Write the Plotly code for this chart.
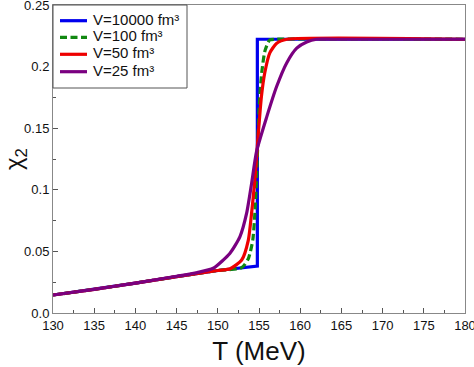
import plotly.graph_objects as go

# Data
labels = ["V=10000 fm³", "V=100 fm³", "V=50 fm³", "V=25 fm³"]

T_v10000 = [130, 135, 140, 145, 150, 154.8, 154.8, 180]
chi_v10000 = [0.0146, 0.0192, 0.0243, 0.0295, 0.0345, 0.0380, 0.2222, 0.2222]

T_v100 = [130, 135, 140, 145, 150, 152.9, 153.7, 154.24, 154.5, 154.72, 155.04, 155.33, 155.73, 156.3, 157.0, 180]
chi_v100 = [0.0146, 0.0192, 0.0243, 0.0295, 0.0345, 0.0368, 0.044, 0.059, 0.081, 0.113, 0.170, 0.195, 0.213, 0.2216, 0.2222, 0.2222]

T_v50 = [130, 135, 140, 145, 150, 151.5, 152.9, 153.7, 154.1, 154.5, 154.85, 155.3, 155.7, 156.3, 157.15, 158.4, 180]
chi_v50 = [0.0146, 0.0192, 0.0243, 0.0295, 0.0345, 0.0360, 0.043, 0.059, 0.081, 0.108, 0.140, 0.176, 0.195, 0.211, 0.219, 0.2222, 0.2222]

T_v25 = [130, 135, 140, 145, 147.5, 149.45, 151.48, 152.69, 153.5, 154.1, 154.7, 155.93, 157.15, 158.36, 159.58, 160.79, 162.0, 164.0, 180]
chi_v25 = [0.0146, 0.0192, 0.0243, 0.0298, 0.0328, 0.0363, 0.0485, 0.062, 0.081, 0.105, 0.131, 0.159, 0.184, 0.203, 0.215, 0.220, 0.2222, 0.2222, 0.2222]

x_ticks = [130, 135, 140, 145, 150, 155, 160, 165, 170, 175, 180]
y_ticks = [0.0, 0.05, 0.1, 0.15, 0.2, 0.25]
y_tick_text = ["0.0", "0.05", "0.1", "0.15", "0.2", "0.25"]

FONT = "Liberation Sans, Arial"
colors = ["#0000ee", "#118811", "#ee0000", "#7a0080"]
dashes = ["solid", "7px,3.5px", "solid", "solid"]
shapes_ = ["linear", "spline", "spline", "spline"]
LW = 3.2

series = [(T_v10000, chi_v10000), (T_v100, chi_v100), (T_v50, chi_v50), (T_v25, chi_v25)]

fig = go.Figure()
for (tx, cy), name, col, dsh, shp in zip(series, labels, colors, dashes, shapes_):
    line = dict(color=col, width=LW, dash=dsh, shape=shp)
    if shp == "spline":
        line["smoothing"] = 0.6
    fig.add_trace(go.Scatter(x=tx, y=cy, mode="lines", name=name, line=line, showlegend=False))

axis_common = dict(showgrid=False, zeroline=False, showline=True, linecolor="#888888", linewidth=1,
                   mirror=True, ticks="inside", ticklen=5, tickcolor="#555555", automargin=False,
                   ticklabeloverflow="allow",
                   tickfont=dict(family=FONT, size=13, color="#111111"))

fig.update_xaxes(range=[130, 180], tickvals=x_ticks,
                 minor=dict(ticks="inside", ticklen=3, dtick=2.5, tick0=130, tickcolor="#555555"),
                 title=dict(text="T (MeV)", font=dict(family=FONT, size=26, color="#111111"), standoff=10),
                 **axis_common)
fig.update_yaxes(range=[0, 0.25], tickvals=y_ticks, ticktext=y_tick_text,
                 minor=dict(ticks="inside", ticklen=3, dtick=0.025, tick0=0, tickcolor="#555555"),
                 title=dict(text="χ<sub>2</sub>", font=dict(family=FONT, size=24, color="#111111"), standoff=4),
                 **axis_common)

# Legend box drawn in paper coordinates (plot area: 412 x 308 px)
PW, PH = 412.0, 308.0
def px_x(p):
    return (p - 53) / PW
def px_y(p):
    return (313 - p) / PH

shapes = [dict(type="rect", xref="paper", yref="paper",
               x0=px_x(53), x1=px_x(187), y0=px_y(88), y1=px_y(5),
               line=dict(color="#555555", width=1), fillcolor="white", layer="above")]
annotations = []
row_y = [20.7, 37.3, 54.3, 71.7]
for ry, name, col, dsh in zip(row_y, labels, colors, dashes):
    shapes.append(dict(type="line", xref="paper", yref="paper",
                       x0=px_x(60), x1=px_x(87), y0=px_y(ry), y1=px_y(ry),
                       line=dict(color=col, width=LW, dash=dsh), layer="above"))
    annotations.append(dict(xref="paper", yref="paper", x=px_x(92), y=px_y(ry - 1.5),
                            xanchor="left", yanchor="middle", showarrow=False, text=name,
                            borderpad=0,
                            font=dict(family=FONT, size=15, color="#111111")))

fig.update_layout(
    width=474, height=367,
    margin=dict(l=53, r=9, t=5, b=54),
    plot_bgcolor="white", paper_bgcolor="white",
    showlegend=False,
    shapes=shapes, annotations=annotations,
)

fig.write_html("out.html", config={"displayModeBar": False},
               post_script="document.body.style.margin='0';document.body.style.overflow='hidden';")
